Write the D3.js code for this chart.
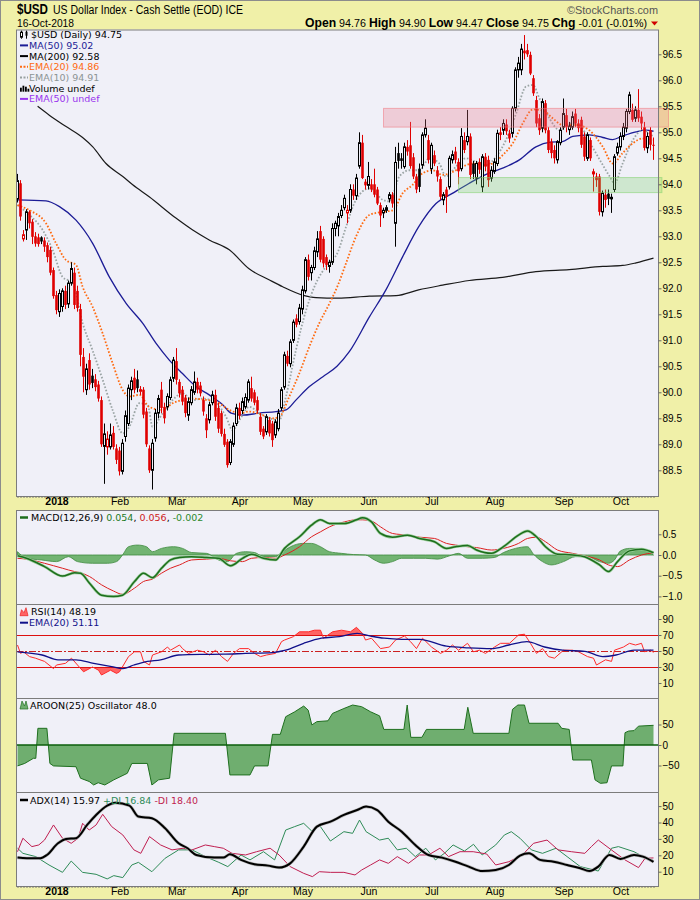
<!DOCTYPE html>
<html lang="en">
<head>
<meta charset="utf-8">
<title>$USD Daily</title>
<script src="https://cdn.jsdelivr.net/npm/d3@7/dist/d3.min.js"></script>
<style>
  body { margin: 0; background: #f0f0a8; }
  svg { display: block; }
</style>
</head>
<body>
<script>
// daily bars 12-Dec-2017 .. 16-Oct-2018 (bar index 0..212)
var opens = [93.72,94.02,92.95,93.12,93.47,93.28,93.00,92.98,92.98,92.92,
  92.83,92.74,92.35,91.87,91.55,91.65,91.95,91.70,92.10,92.30,
  91.95,91.60,90.68,90.05,90.62,90.32,90.25,90.15,89.85,88.96,
  88.95,88.95,89.22,88.92,88.88,88.48,89.15,89.40,90.05,90.28,
  90.25,90.02,90.05,89.63,88.92,88.50,89.12,89.60,90.05,89.72,
  89.72,89.90,90.27,90.60,90.20,90.05,89.90,89.56,89.80,90.00,
  90.20,90.13,89.85,89.50,89.47,89.80,89.95,89.70,89.60,89.20,
  89.05,88.65,89.00,89.40,89.70,89.65,89.72,89.85,90.08,90.00,
  89.85,89.53,89.30,89.24,89.47,89.40,89.18,89.30,89.70,90.10,
  90.70,90.55,91.00,91.42,91.36,91.60,91.95,92.55,92.30,92.40,
  92.70,93.10,92.95,92.60,92.42,92.50,93.15,93.20,93.40,93.55,
  93.45,93.50,93.90,93.78,94.35,94.80,94.05,93.98,94.00,94.00,
  93.90,93.60,93.45,93.50,93.72,93.80,93.25,94.60,94.50,94.34,
  94.72,94.75,94.52,94.15,94.30,94.37,94.95,94.85,94.30,94.56,
  94.27,94.10,93.70,93.90,93.95,94.47,94.63,94.43,94.30,94.85,
  94.82,94.92,94.40,94.12,94.43,93.95,94.53,94.47,94.12,94.25,
  94.40,95.00,95.04,95.15,94.98,94.98,95.46,96.20,96.20,96.57,
  96.58,96.49,96.04,95.62,95.27,95.08,95.56,95.04,94.82,94.66,
  94.47,94.80,95.10,95.33,95.05,95.10,95.36,95.17,95.24,94.92,
  94.50,94.85,94.20,94.15,94.15,93.47,93.80,93.82,93.72,93.90,
  94.60,94.72,94.92,95.08,95.40,95.43,95.27,95.43,95.30,95.10,
  94.70,95.04,94.76];
var highs = [94.20,94.08,93.12,93.52,93.50,93.33,93.08,93.05,93.00,92.98,
  92.88,92.80,92.40,91.95,91.98,92.00,92.05,92.15,92.50,92.40,
  92.05,91.70,90.85,90.55,90.75,90.45,90.35,90.22,89.92,89.40,
  89.25,89.40,89.35,89.00,88.95,89.10,89.65,90.15,90.30,90.45,
  90.42,90.12,90.10,89.70,88.98,89.10,89.68,89.95,90.20,89.80,
  89.98,90.30,90.68,90.85,90.25,90.12,89.95,89.90,90.12,90.40,
  90.28,90.20,89.92,89.58,89.82,90.03,90.05,89.80,89.65,89.30,
  89.10,89.10,89.42,89.78,89.80,89.90,89.98,90.25,90.30,90.05,
  89.92,89.60,89.35,89.58,89.52,89.45,89.48,89.68,90.10,90.78,
  90.80,91.02,91.40,91.50,91.70,92.05,92.60,92.65,92.45,92.80,
  93.10,93.20,93.00,92.65,92.55,93.25,93.30,93.45,93.60,93.80,
  93.60,94.00,94.00,94.20,95.00,94.95,94.10,94.43,94.10,94.30,
  93.95,93.65,93.55,93.60,93.85,93.85,94.72,94.80,94.60,94.80,
  94.85,95.20,94.60,94.20,94.40,95.00,95.25,94.95,94.80,94.65,
  94.35,94.15,93.85,93.95,94.55,94.65,94.72,94.50,95.08,95.00,
  95.43,94.98,94.45,94.45,94.50,94.58,94.60,94.55,94.35,94.50,
  95.05,95.10,95.25,95.25,95.05,95.50,96.25,96.45,96.70,96.87,
  96.70,96.55,96.10,95.70,95.35,95.65,95.62,95.10,94.88,94.75,
  94.85,95.10,95.65,95.45,95.20,95.40,95.45,95.25,95.30,95.00,
  95.00,94.90,94.30,94.22,94.20,93.88,93.90,93.90,93.82,94.58,
  94.80,95.00,95.18,95.45,95.78,95.55,95.50,95.83,95.40,95.20,
  95.00,95.10,94.90];
var lows = [93.65,93.30,92.90,92.93,93.15,92.85,92.80,92.80,92.85,92.70,
  92.50,92.25,91.80,91.50,91.45,91.55,91.60,91.62,92.05,91.60,
  91.55,90.50,90.00,89.95,90.05,90.08,90.02,89.82,88.95,88.24,
  88.80,88.90,88.90,88.62,88.40,88.42,89.05,89.35,89.85,89.98,
  90.00,89.95,89.50,88.95,88.45,88.13,89.05,89.50,89.60,89.40,
  89.65,89.85,90.20,90.15,89.90,89.75,89.52,89.45,89.75,89.95,
  89.98,89.92,89.55,89.12,89.40,89.75,89.45,89.22,89.15,88.95,
  88.55,88.60,88.95,89.35,89.48,89.58,89.68,89.80,89.82,89.75,
  89.60,89.18,89.10,89.18,89.15,88.95,89.12,89.25,89.65,90.05,
  90.50,90.48,90.95,91.25,91.30,91.50,91.90,92.15,92.15,92.35,
  92.60,92.50,92.40,92.35,92.30,92.45,93.00,93.00,93.35,93.50,
  93.25,93.45,93.70,93.70,94.30,94.10,93.90,93.90,93.85,93.75,
  93.60,93.18,93.35,93.45,93.65,93.55,92.80,94.30,94.30,94.30,
  94.55,94.30,94.10,93.83,93.85,94.30,94.90,94.40,94.20,94.35,
  94.05,93.70,93.60,93.45,93.90,94.40,94.40,94.00,94.25,94.60,
  94.75,94.10,94.10,94.00,94.20,93.85,94.25,93.95,94.05,94.20,
  94.35,94.85,94.95,94.95,94.80,94.90,95.40,96.05,96.10,96.40,
  96.45,96.10,95.70,95.10,94.95,95.00,94.98,94.60,94.50,94.40,
  94.40,94.75,95.05,95.00,94.95,95.05,95.10,95.00,94.70,94.45,
  94.45,94.45,93.86,93.95,93.40,93.38,93.55,93.60,93.45,93.85,
  94.55,94.65,94.85,95.00,95.35,95.20,95.20,95.20,95.05,94.65,
  94.60,94.65,94.47];
var closes = [94.07,93.38,93.03,93.47,93.25,92.99,92.86,92.85,92.90,92.80,
  92.60,92.30,91.85,91.58,91.90,91.95,91.68,92.10,92.38,91.68,
  91.62,90.72,90.30,90.45,90.15,90.18,90.10,89.88,89.00,89.20,
  89.10,89.18,88.95,88.70,88.48,89.02,89.55,90.08,90.22,90.05,
  90.08,90.05,89.57,89.00,88.50,89.02,89.60,89.88,89.70,89.50,
  89.92,90.24,90.62,90.24,89.98,89.82,89.60,89.82,90.05,90.20,
  90.05,89.98,89.63,89.27,89.76,89.95,89.53,89.30,89.20,88.99,
  88.60,89.05,89.35,89.70,89.55,89.82,89.90,90.20,89.88,89.80,
  89.65,89.24,89.15,89.53,89.21,89.08,89.43,89.60,90.05,90.72,
  90.55,90.97,91.35,91.30,91.62,91.97,92.55,92.22,92.40,92.72,
  92.95,92.55,92.48,92.45,92.50,93.15,93.25,93.38,93.50,93.73,
  93.50,93.90,93.78,94.12,94.80,94.12,93.98,94.15,93.90,93.80,
  93.63,93.40,93.50,93.55,93.80,93.63,94.42,94.45,94.45,94.72,
  94.63,94.35,94.15,93.90,93.95,94.95,95.08,94.47,94.75,94.40,
  94.15,93.76,93.80,93.76,94.50,94.57,94.47,94.25,94.92,94.66,
  94.92,94.18,94.20,94.40,94.28,94.53,94.34,94.08,94.27,94.43,
  94.98,94.95,95.17,95.02,94.88,95.46,96.20,96.33,96.60,96.52,
  96.50,96.13,95.75,95.17,95.04,95.59,95.04,94.66,94.60,94.50,
  94.82,95.04,95.36,95.10,95.12,95.30,95.17,95.08,94.76,94.53,
  94.95,94.50,94.24,94.08,93.47,93.83,93.70,93.72,93.75,94.53,
  94.72,94.92,95.10,95.40,95.72,95.24,95.43,95.27,95.17,94.70,
  94.92,94.76,94.75];

var monthIdx = [13, 34, 53, 74, 95, 117, 138, 159, 182, 201];
var monthLabels = ["2018", "Feb", "Mar", "Apr", "May", "Jun", "Jul", "Aug", "Sep", "Oct"];

// overlays (bar index, price)
var ma50Idx = [0,9.5,14,19.5,25,30.6,36.2,41.7,46.2,50.6,55,59.5,63.9,68.4,71.2,75,80.6,86.2,89.5,92.8,97.3,101.8,106.5,110.6,117.3,122.8,128.4,133.7,139.5,145.1,150.6,156.2,161.7,167.3,172.8,177.7,181.6,185.1,190.6,195.1,198.4,201.7,206.2,209.5,212];
var ma50Val = [93.7,93.68,93.57,93.31,92.87,92.22,91.71,91.33,90.94,90.62,90.36,90.11,89.95,89.76,89.6,89.56,89.6,89.63,89.66,89.85,90.11,90.3,90.5,90.78,91.45,91.97,92.61,93.18,93.63,93.83,94.02,94.19,94.31,94.47,94.72,94.81,94.82,94.92,94.95,94.9,94.86,94.93,95.01,95.04,95.02];
var ma200Idx = [6.7,10.6,16.2,21.7,25.1,29.5,35.1,38.4,43.9,52.8,58.4,63.9,70.6,77.3,84,88.4,95,99.5,106.8,117.3,126.2,133.7,141.7,150.6,161.7,172.8,183.9,195.1,201.7,206.2,212];
var ma200Val = [95.5,95.33,95.11,94.9,94.72,94.4,94.15,93.99,93.76,93.35,93.12,92.93,92.74,92.37,92.16,92.03,91.87,91.82,91.81,91.85,91.86,91.97,92.06,92.15,92.21,92.32,92.36,92.42,92.44,92.49,92.58];
var ema20Idx = [0,4,9.5,12.8,16.2,19.5,21.7,25,28.4,31.7,35.1,37.3,40.6,43.9,48.4,51.7,55,58.4,61.7,66.2,70.6,74,77.3,81.7,85.1,87.3,90.6,93.9,97.3,100.6,104,106.8,109.5,112.8,117.3,121.8,125.1,128.4,131.7,135,138.4,141.7,145.1,148.4,151.8,155.1,158.4,161.7,165.1,168.4,171.8,175.1,178.4,181.7,186.2,190.6,195.1,198.4,201.7,205.1,208.4,212];
var ema20Val = [93.6,93.5,93.25,92.87,92.54,92.45,92.03,91.65,91.13,90.56,90.04,89.92,89.95,89.72,89.66,89.79,89.85,89.88,89.86,89.82,89.66,89.6,89.63,89.56,89.5,89.53,89.92,90.36,90.88,91.33,91.71,92.06,92.48,92.99,93.41,93.47,93.5,93.83,93.99,94.21,94.27,94.18,94.24,94.34,94.4,94.37,94.4,94.56,94.79,95.17,95.44,95.42,95.27,95.14,95.14,95.04,94.72,94.4,94.6,94.79,94.88,94.86];
var ema10Idx = [0,4,8.4,11.7,15,18.4,21.7,25,28.4,31.7,35.1,37.3,40.6,43.4,45,48.4,51.7,55,58.4,61.7,66.2,69.5,71.7,74,77.3,80.6,84,87.3,89.5,92.8,96.2,99.5,102.8,106.8,109.5,112.8,117.3,121.8,124.1,127.3,130.7,134,137.3,140.6,142.8,146.2,149.5,152.8,156.2,159.5,162.8,166.2,169.5,171.8,174,177.3,180.7,184,187.3,190.6,194.1,197.4,199,201.7,205.1,208.4,212];
var ema10Val = [93.6,93.41,93.12,92.74,92.22,92.1,91.33,90.81,90.24,89.66,89.21,89.34,89.79,89.76,89.34,89.6,89.85,89.98,89.85,89.88,89.79,89.53,89.27,89.47,89.72,89.6,89.5,89.47,89.92,90.81,91.58,92.1,92.42,92.7,93.18,93.7,93.92,93.7,93.67,94.15,94.27,94.27,94.5,94.4,94.15,94.34,94.5,94.43,94.37,94.53,94.85,95.36,95.88,95.91,95.65,95.27,95.04,95.17,95.14,94.82,94.47,94.15,94.02,94.4,94.85,95.04,94.91];

// support / resistance zones
var zoneStart = [122, 147];
var zoneEnd = [217, 214.8];
var zoneLow = [95.10, 93.84];
var zoneHigh = [95.46, 94.13];

// MACD(12,26,9)
var macdIdx = [0,3,9,15,19,21,24,28,32,35,39,42,45,48,51,54,58,63,67,71,75,78,82,86,89,94,98,101,104,109,113,115,118,121,125,130,134,139,143,146,150,153,158,162,167,170,173,176,180,185,189,194,197,200,204,208,212];
var macdVal = [-0.02,-0.08,-0.28,-0.51,-0.43,-0.44,-0.68,-0.97,-1.0,-0.97,-0.64,-0.44,-0.55,-0.32,-0.12,-0.06,-0.04,-0.06,-0.08,-0.26,-0.08,0.02,-0.08,-0.12,0.16,0.44,0.72,0.85,0.76,0.76,0.85,0.9,0.8,0.52,0.43,0.48,0.4,0.32,0.16,0.2,0.23,0.12,0.04,0.2,0.48,0.58,0.44,0.2,0.02,0.0,-0.04,-0.24,-0.4,-0.16,0.1,0.14,0.054];
var signalVal = [-0.08,-0.1,-0.2,-0.32,-0.4,-0.43,-0.52,-0.72,-0.87,-0.95,-0.8,-0.64,-0.58,-0.44,-0.32,-0.24,-0.12,-0.1,-0.08,-0.14,-0.16,-0.08,-0.06,-0.08,0.0,0.2,0.44,0.56,0.68,0.8,0.85,0.85,0.82,0.68,0.52,0.48,0.43,0.4,0.28,0.24,0.2,0.18,0.12,0.16,0.28,0.4,0.43,0.32,0.12,0.04,-0.02,-0.12,-0.24,-0.28,-0.12,0.0,0.056];
var histIdx = [0,3,8,13,17,20,25,30,33,35,37,40,43,45,48,52,55,58,63,67,70,73,76,79,82,86,88,91,95,98,101,104,108,112,116,119,122,125,128,132,136,140,144,147,150,155,159,162,166,170,172,175,178,182,186,190,194,197,199,201,204,207,210,212];
var histVal = [0.08,-0.08,-0.12,-0.16,-0.04,-0.16,-0.2,-0.2,-0.16,0.0,0.2,0.24,0.2,0.08,0.16,0.2,0.16,0.06,0.04,-0.12,-0.16,0.04,0.08,0.06,-0.04,-0.04,0.06,0.2,0.28,0.28,0.2,0.08,0.04,0.01,0.0,-0.12,-0.2,-0.16,-0.08,-0.08,-0.08,-0.1,-0.02,0.04,-0.08,-0.08,-0.06,0.06,0.16,0.2,0.02,-0.16,-0.24,-0.16,-0.04,-0.04,-0.16,-0.2,-0.12,0.1,0.16,0.16,0.1,-0.002];

// RSI(14) and its EMA(20)
var rsiIdx = [0,1,2,4,6,9,12,13,16,18,20,22,25,27,28,31,33,34,37,39,41,42,44,45,48,50,51,54,55,57,60,62,64,66,68,70,72,74,77,79,81,83,86,88,89,92,94,97,99,101,102,105,108,111,113,115,116,118,121,124,126,129,131,133,135,138,141,143,145,147,150,152,154,156,159,161,164,167,169,171,173,175,177,179,182,185,187,190,192,193,196,198,199,202,204,206,208,209,211,212];
var rsiVal = [57.5,47,49,43,41,37,28,32.5,34.6,41,32.5,24,30,26,20,26,22,24,43,49,49,37,32.5,45,49,55,51,57.5,53,47,51,49,45,51,43,37,47,53,53,47,43,45,47,61.7,63.7,68,74,74,76,76,66,74,76,74,79.6,72,63.7,66,53,55,63.7,68.7,61.7,53,66,55,47,51,57.5,51,59.6,49,51,47,55,59.6,59.6,70,71,59.6,47,53,43,41,51,51,49,43,41,32.5,39,37,51,55,59.6,57.5,59.6,49,51,48.19];
var rsiEmaIdx = [0,8.2,13.5,19.5,25.4,31.4,35.1,38.8,43.3,47.7,53.7,61.1,68.6,76,84.9,89.4,95.4,101.3,107.3,113.2,117.7,122.2,128.1,134,143,150.4,157.9,163.8,169.8,175.7,181.7,189.1,195.1,199.5,205.5,212];
var rsiEmaVal = [49,45,39,39,34.6,30.4,28,32.5,37,39,45,45.8,46,47,48,51,59.6,66,68,72,68.7,66,64.6,64.6,56,54,53,57.5,61.7,55,51,49.6,43,45,51,51.11];

// AROON(25) oscillator
var aroonIdx = [0,2.4,5.3,6.1,6.8,9.8,10.8,12,19.5,21,23.9,25.4,26.9,29.1,32.1,36.6,38.1,43.3,44.8,47,50.7,52.2,69.3,70.8,77.5,79,83.5,85,87.6,89.4,92.4,95.4,96.9,98.1,99.8,103.5,105,108.8,111.7,114.7,117.7,120.7,122.1,128.8,129.9,131.1,134.8,136.3,148.9,150.1,151.9,163.8,165,166.8,169,170.5,180.2,181.4,183.9,185.1,191.3,192.5,194.3,196.5,198,201.8,202.5,203.7,205.5,207,212];
var aroonVal = [-51,-45,-32.5,-32.5,40.7,40.7,-45,-51,-53,-81,-89,-97.5,-92,-97.5,-85,-69,-45,-45,-97.5,-85,-81,28.5,28.5,-73,-73,-51,-51,26,26,69,81,95,85,49,57,59,77,89,97.5,93.5,81,71,38,38,97.5,18.7,18.7,38,38,92,28.5,28.5,87,97.5,97.5,53,53,40.7,38,-36.6,-36.6,-85,-93.5,-92,-51,-51,30,34,35,46,48];

// ADX(14), +DI, -DI
var adxIdx = [0,3.1,7.6,9.8,13.5,16.2,19.5,23.2,26.2,29.9,32.6,37.3,40.3,44.8,49.2,53.7,56.7,59.6,65.6,68.6,70.8,74.5,79,83.5,87.2,90.9,95.4,99.8,104.3,108.8,113.2,116.2,119.9,123.6,128.1,132.6,137,141.5,146,150.4,154.9,159.4,163.8,167.5,170.5,174.2,178.7,183.2,187.6,190.6,193.6,197.3,201,205.5,208.5,212];
var adxVal = [18.6,18.2,18.2,20.2,27.3,30,30.4,38.5,44.6,50.3,52,50.3,43.6,42.6,36.5,27.3,24.3,20.2,18.6,18.6,20.6,17.2,14.5,13.7,12.5,15.1,25.3,37.5,40.5,44.6,47.6,49.7,47.6,40.5,34.4,26.3,20.2,18.6,16.1,13.1,10.4,11,14.1,19.8,21.2,17.2,16.1,14.1,12.1,10.4,13.1,20.2,17.8,20.2,19.2,15.97];
var pdiIdx = [0,1.8,6.1,10.5,15,17.9,21.7,26.2,29.9,32.1,35.1,38.1,40.3,44.8,49.2,53.7,58.2,62.6,67.1,70.1,74.5,77.5,82,85.7,89.4,92.4,95.4,98.3,100.6,104.3,108.8,111.7,114,116.2,120.7,123.6,126.6,129.6,132.6,136.1,139.3,142.3,145.2,149,152,154.9,159.4,162.3,164.6,167.5,171.3,175,179.5,183.2,187.6,193.6,198,200.3,205.5,208.5,212];
var pdiVal = [24.3,21.2,19.2,14.1,9.6,16.5,9.6,8.4,5.6,7.6,6.4,14.1,15.7,10,18.2,23.3,23.3,19.2,15.7,13.1,20.2,17.2,22.2,17.2,35.4,37.5,39.5,34.4,38.5,28.7,34.4,33.4,41.5,34.4,29.3,30.4,23.3,24.3,19.2,24.3,17.2,21.2,26.3,22.6,26.7,20.2,26.3,32.4,34.4,30.4,23.3,21.2,24.3,19.2,13.1,10.4,24.3,25.3,22.2,19.2,16.84];
var mdiIdx = [0,1.8,4.8,7.1,9,12,15,17.9,20.2,21.7,23.9,26.2,28.4,31.4,35.1,38.8,41.1,44,47.7,51.5,55.2,58.2,62.6,65.6,68.6,71.5,76,79.7,84.2,87.2,90.9,95.4,98.3,100.6,104.3,108.8,112.5,114.7,117.7,120.7,123.6,126.6,130.3,134,137,140.8,143.7,147.5,151.9,156.4,159.4,163.8,168.3,172,176.5,180.2,184.6,189.1,191.3,193.6,196.5,199.5,202.5,207,209.2,212];
var mdiVal = [22.2,30.4,25.3,26.3,29.3,38.5,30.4,27.3,30.4,39.5,35.4,38.5,45,37.5,32.4,23.3,21.2,31.4,26.3,23.3,24.3,23.3,26.3,25.3,24.3,21.2,20.2,22.2,24.3,20.2,13.1,9,7,10,9.6,9.6,8,11,14.1,17.2,15.1,19.2,15.1,20.2,20.2,24.3,19.2,22.2,22.2,20.8,14.1,16.1,20.2,27.3,29.3,23.3,22.2,21.2,25.3,29.3,25.3,21.2,17.2,12.5,18.2,18.4];

var mainTicks = [88.5,89.0,89.5,90.0,90.5,91.0,91.5,92.0,92.5,93.0,93.5,94.0,94.5,95.0,95.5,96.0,96.5];
var macdTicks = [-1.0,-0.5,0.0,0.5];
var rsiTicks = [10,30,50,70,90];
var aroonTicks = [-50,0,50];
var adxTicks = [10,20,30,40,50];

// ---------------------------------------------------------------
var W = 700, H = 900, L = 16, R = 659;
var bg = "#f0f0a8", panelBg = "#f0f0f8", frame = "#7c7c7c";
var sans = "'Liberation Sans',Arial,sans-serif";
var legendFont = "'DejaVu Sans',Verdana,sans-serif";

var panels = [
  {id: "main", top: 29.5, bot: 496},
  {id: "macd", top: 510, bot: 604},
  {id: "rsi", top: 604, bot: 698},
  {id: "aroon", top: 698, bot: 792},
  {id: "adx", top: 792, bot: 886}
];

var x = d3.scaleLinear().domain([0, 212]).range([17.5, 653.5]);
var yP = d3.scaleLinear().domain([88.5, 96.5]).range([470.3, 54.3]);
var yM = d3.scaleLinear().domain([-1, 0.5]).range([596.4, 534.3]);
var yR = d3.scaleLinear().domain([10, 90]).range([683, 619]);
var yA = d3.scaleLinear().domain([-50, 50]).range([765.5, 724.5]);
var yD = d3.scaleLinear().domain([10, 50]).range([871.7, 806.1]);

function pts(idx, val) { return idx.map(function(d, k) { return [d, val[k]]; }); }

var svg = d3.select("body").append("svg").attr("width", W).attr("height", H);
var defs = svg.append("defs");

svg.append("rect").attr("x", 0.5).attr("y", 0.5).attr("width", W - 1).attr("height", H - 1)
  .attr("fill", bg).attr("stroke", "#8c8c8c");

panels.forEach(function(p) {
  defs.append("clipPath").attr("id", "clip-" + p.id).append("rect")
    .attr("x", L).attr("y", p.top).attr("width", R - L).attr("height", p.bot - p.top);
  svg.append("rect").attr("x", L).attr("y", p.top).attr("width", R - L).attr("height", p.bot - p.top)
    .attr("fill", panelBg);
});

// ---------------- main price panel
var gMain = svg.append("g").attr("clip-path", "url(#clip-main)");

var lineP = d3.line().x(function(d) { return x(d[0]); }).y(function(d) { return yP(d[1]); }).curve(d3.curveMonotoneX);

gMain.append("path").attr("d", lineP(pts(ma200Idx, ma200Val))).attr("fill", "none")
  .attr("stroke", "#1a1a1a").attr("stroke-width", 1.2);
gMain.append("path").attr("d", lineP(pts(ma50Idx, ma50Val))).attr("fill", "none")
  .attr("stroke", "#1c1c96").attr("stroke-width", 1.3);
gMain.append("path").attr("d", lineP(pts(ema10Idx, ema10Val))).attr("fill", "none")
  .attr("stroke", "#9aa4a4").attr("stroke-width", 1.8).attr("stroke-dasharray", "1.6,1.8");
gMain.append("path").attr("d", lineP(pts(ema20Idx, ema20Val))).attr("fill", "none")
  .attr("stroke", "#ff6a10").attr("stroke-width", 1.8).attr("stroke-dasharray", "1.6,1.8");

var bars = closes.map(function(c, i) {
  var prev = i > 0 ? closes[i - 1] : opens[i];
  return {i: i, o: opens[i], h: highs[i], l: lows[i], c: c,
    col: c < prev ? "#e00000" : "#000000", hollow: c > opens[i]};
});

gMain.selectAll("line.wick").data(bars).enter().append("line").attr("class", "wick")
  .attr("x1", function(d) { return x(d.i); }).attr("x2", function(d) { return x(d.i); })
  .attr("y1", function(d) { return yP(d.h); }).attr("y2", function(d) { return yP(d.l); })
  .attr("stroke", function(d) { return d.col; }).attr("stroke-width", 1);

gMain.selectAll("rect.body").data(bars).enter().append("rect").attr("class", "body")
  .attr("x", function(d) { return d.hollow ? x(d.i) - 1 : x(d.i) - 1.3; })
  .attr("width", function(d) { return d.hollow ? 2 : 2.6; })
  .attr("y", function(d) { return yP(Math.max(d.o, d.c)); })
  .attr("height", function(d) { return Math.max(1, yP(Math.min(d.o, d.c)) - yP(Math.max(d.o, d.c))); })
  .attr("fill", function(d) { return d.hollow ? panelBg : d.col; })
  .attr("stroke", function(d) { return d.hollow ? d.col : "none"; })
  .attr("stroke-width", 1);

// zones drawn over the candles, they run past the right frame
zoneStart.forEach(function(s, k) {
  svg.append("rect")
    .attr("x", x(s)).attr("width", x(zoneEnd[k]) - x(s))
    .attr("y", yP(zoneHigh[k])).attr("height", yP(zoneLow[k]) - yP(zoneHigh[k]))
    .attr("fill", k === 0 ? "rgba(232,110,130,0.28)" : "rgba(120,210,100,0.28)")
    .attr("stroke", k === 0 ? "rgba(240,120,130,0.55)" : "rgba(130,210,110,0.55)");
});

// ---------------- MACD
var gMacd = svg.append("g").attr("clip-path", "url(#clip-macd)");
var histArea = d3.area().x(function(d) { return x(d[0]); }).y0(yM(0)).y1(function(d) { return yM(d[1]); })
  .curve(d3.curveMonotoneX);
gMacd.append("path").attr("d", histArea(pts(histIdx, histVal)))
  .attr("fill", "#72b472").attr("stroke", "#3d8a3d").attr("stroke-width", 0.8);
var lineM = d3.line().x(function(d) { return x(d[0]); }).y(function(d) { return yM(d[1]); }).curve(d3.curveMonotoneX);
gMacd.append("path").attr("d", lineM(pts(macdIdx, signalVal))).attr("fill", "none")
  .attr("stroke", "#dd2020").attr("stroke-width", 1);
gMacd.append("path").attr("d", lineM(pts(macdIdx, macdVal))).attr("fill", "none")
  .attr("stroke", "#9ccf9c").attr("stroke-width", 2.8);
gMacd.append("path").attr("d", lineM(pts(macdIdx, macdVal))).attr("fill", "none")
  .attr("stroke", "#1d6e1d").attr("stroke-width", 1.5);

// ---------------- RSI
var gRsi = svg.append("g").attr("clip-path", "url(#clip-rsi)");
defs.append("clipPath").attr("id", "clip-rsi-hi").append("rect")
  .attr("x", L).attr("y", 604).attr("width", R - L).attr("height", yR(70) - 604);
defs.append("clipPath").attr("id", "clip-rsi-lo").append("rect")
  .attr("x", L).attr("y", yR(30)).attr("width", R - L).attr("height", 698 - yR(30));
var rsiPts = pts(rsiIdx, rsiVal);
var lineR = d3.line().x(function(d) { return x(d[0]); }).y(function(d) { return yR(d[1]); });
gRsi.append("path").attr("clip-path", "url(#clip-rsi-hi)")
  .attr("d", d3.area().x(function(d) { return x(d[0]); }).y0(yR(70)).y1(function(d) { return yR(d[1]); })(rsiPts))
  .attr("fill", "#ff6464");
gRsi.append("path").attr("clip-path", "url(#clip-rsi-lo)")
  .attr("d", d3.area().x(function(d) { return x(d[0]); }).y0(yR(30)).y1(function(d) { return yR(d[1]); })(rsiPts))
  .attr("fill", "#ff6464");
[70, 30].forEach(function(v) {
  gRsi.append("line").attr("x1", L).attr("x2", R).attr("y1", Math.round(yR(v)) + 0.5).attr("y2", Math.round(yR(v)) + 0.5)
    .attr("stroke", "#dd1010").attr("stroke-width", 1);
});
gRsi.append("line").attr("x1", L).attr("x2", R).attr("y1", Math.round(yR(50)) + 0.5).attr("y2", Math.round(yR(50)) + 0.5)
  .attr("stroke", "#cc2020").attr("stroke-width", 1).attr("stroke-dasharray", "7,2,2,2");
gRsi.append("path").attr("d", lineR(rsiPts)).attr("fill", "none").attr("stroke", "#ff2a2a").attr("stroke-width", 1);
gRsi.append("path").attr("d", lineR.curve(d3.curveMonotoneX)(pts(rsiEmaIdx, rsiEmaVal))).attr("fill", "none")
  .attr("stroke", "#10108a").attr("stroke-width", 1.3);

// ---------------- AROON
var gAr = svg.append("g").attr("clip-path", "url(#clip-aroon)");
var arPts = pts(aroonIdx, aroonVal);
gAr.append("path")
  .attr("d", d3.area().x(function(d) { return x(d[0]); }).y0(yA(0)).y1(function(d) { return yA(d[1]); })(arPts))
  .attr("fill", "#6fae6f");
gAr.append("path")
  .attr("d", d3.line().x(function(d) { return x(d[0]); }).y(function(d) { return yA(d[1]); })(arPts))
  .attr("fill", "none").attr("stroke", "#1f6f1f").attr("stroke-width", 1);
gAr.append("line").attr("x1", L).attr("x2", R).attr("y1", yA(0)).attr("y2", yA(0))
  .attr("stroke", "#0b5e0b").attr("stroke-width", 1.4);

// ---------------- ADX
var gAdx = svg.append("g").attr("clip-path", "url(#clip-adx)");
var lineD = d3.line().x(function(d) { return x(d[0]); }).y(function(d) { return yD(d[1]); });
gAdx.append("path").attr("d", lineD(pts(pdiIdx, pdiVal))).attr("fill", "none").attr("stroke", "#2e8b57").attr("stroke-width", 1);
gAdx.append("path").attr("d", lineD(pts(mdiIdx, mdiVal))).attr("fill", "none").attr("stroke", "#c01e50").attr("stroke-width", 1);
var lineDs = d3.line().x(function(d) { return x(d[0]); }).y(function(d) { return yD(d[1]); }).curve(d3.curveMonotoneX);
gAdx.append("path").attr("d", lineDs(pts(adxIdx, adxVal))).attr("fill", "none").attr("stroke", "#b8b8b8").attr("stroke-width", 3.2);
gAdx.append("path").attr("d", lineDs(pts(adxIdx, adxVal))).attr("fill", "none").attr("stroke", "#000").attr("stroke-width", 2);

// ---------------- frames and axes
panels.forEach(function(p) {
  svg.append("rect").attr("x", L + 0.5).attr("y", p.top + 0.5).attr("width", R - L - 1).attr("height", p.bot - p.top)
    .attr("fill", "none").attr("stroke", frame);
});

function rightAxis(scale, ticks, fmt, minorStep) {
  var r = scale.range();
  var lo = scale.invert(Math.max(r[0], r[1])), hi = scale.invert(Math.min(r[0], r[1]));
  var g = svg.append("g").attr("transform", "translate(" + (R - 0.5) + ",0)");
  var minor = d3.range(Math.ceil(lo / minorStep) * minorStep, hi, minorStep);
  g.call(d3.axisRight(scale).tickValues(minor).tickSize(2).tickFormat(""));
  g.call(d3.axisRight(scale).tickValues(ticks).tickSize(3).tickPadding(1).tickFormat(fmt));
  g.selectAll(".domain").remove();
  g.selectAll("line").attr("stroke", "#666");
  g.selectAll("text").attr("font-family", sans).attr("font-size", 10).attr("fill", "#000");
}
rightAxis(d3.scaleLinear().domain([yP.invert(496), yP.invert(29.5)]).range([496, 29.5]), mainTicks, d3.format(".1f"), 0.1);
rightAxis(d3.scaleLinear().domain([yM.invert(604), yM.invert(510)]).range([604, 510]), macdTicks, d3.format(".1f"), 0.1);
rightAxis(d3.scaleLinear().domain([yR.invert(698), yR.invert(604)]).range([698, 604]), rsiTicks, d3.format("d"), 5);
rightAxis(d3.scaleLinear().domain([yA.invert(792), yA.invert(698)]).range([792, 698]), aroonTicks, d3.format("d"), 10);
rightAxis(d3.scaleLinear().domain([yD.invert(886), yD.invert(792)]).range([886, 792]), adxTicks, d3.format("d"), 2.5);

function bottomAxis(yPos, labelY) {
  var g = svg.append("g").attr("transform", "translate(0," + yPos + ")");
  g.call(d3.axisBottom(x).tickValues(d3.range(closes.length)).tickSize(2).tickFormat(""));
  g.selectAll(".domain").remove();
  g.selectAll("line").attr("stroke", "#777");
  var t = svg.append("g").attr("transform", "translate(0," + labelY + ")");
  t.call(d3.axisBottom(x).tickValues(monthIdx).tickSize(0).tickPadding(0)
    .tickFormat(function(d, k) { return monthLabels[k]; }));
  t.selectAll(".domain").remove();
  t.selectAll("text").attr("font-family", sans).attr("font-size", 10.5).attr("fill", "#000")
    .attr("font-weight", function(d, k) { return k === 0 ? "bold" : "normal"; });
}
bottomAxis(496, 498);
bottomAxis(886, 888);

// ---------------- header (condensed to the reference widths)
var head = svg.append("g").attr("font-family", sans);
function headText(xp, yp, size, w, txt, opts) {
  var t = head.append("text").attr("x", xp).attr("y", yp).attr("font-size", size)
    .attr("textLength", w).attr("lengthAdjust", "spacingAndGlyphs").text(txt);
  if (opts && opts.bold) t.attr("font-weight", "bold");
  if (opts && opts.fill) t.attr("fill", opts.fill);
  return t;
}
headText(17, 13.5, 14, 31, "$USD", {bold: true});
headText(53, 13.5, 12, 190, "US Dollar Index - Cash Settle (EOD) ICE");
headText(567, 13.5, 11.5, 91, "\u00a9StockCharts.com", {fill: "#555"});
headText(17, 27, 11, 57, "16-Oct-2018");
var ohlc = head.append("text").attr("x", 305).attr("y", 27).attr("font-size", 11)
  .attr("textLength", 342).attr("lengthAdjust", "spacingAndGlyphs");
[["Open", " 94.76  "], ["High", " 94.90  "], ["Low", " 94.47  "], ["Close", " 94.75  "], ["Chg", " -0.01 (-0.01%)"]]
  .forEach(function(p) {
    ohlc.append("tspan").attr("font-weight", "bold").attr("font-size", 12.5).text(p[0]);
    ohlc.append("tspan").text(p[1]);
  });
head.append("path").attr("d", "M651,21.5 L658,21.5 L654.5,25.5 Z").attr("fill", "#d00000");

// ---------------- legends
function legendRow(g, y, icon, parts) {
  icon(g, y);
  var t = g.append("text").attr("x", parts.x).attr("y", y + 3.5).attr("font-family", legendFont).attr("font-size", 9.5);
  parts.items.forEach(function(it) { t.append("tspan").attr("fill", it[1]).text(it[0]); });
}
function dash(col, w, dotted) {
  return function(g, y) {
    g.append("line").attr("x1", 20).attr("x2", 28).attr("y1", y).attr("y2", y).attr("stroke", col)
      .attr("stroke-width", w).attr("stroke-dasharray", dotted ? "2,1.5" : null);
  };
}
var lg = svg.append("g");
var rowY = [34.7, 45.4, 56.1, 66.8, 77.5, 88.2, 98.9];
legendRow(lg, rowY[0], function(g, y) {
  g.append("line").attr("x1", 21.5).attr("x2", 21.5).attr("y1", y - 4).attr("y2", y + 4).attr("stroke", "#000");
  g.append("rect").attr("x", 20.5).attr("y", y - 2.5).attr("width", 2).attr("height", 5).attr("fill", "#fff").attr("stroke", "#000");
  g.append("line").attr("x1", 26.5).attr("x2", 26.5).attr("y1", y - 4).attr("y2", y + 4).attr("stroke", "#000");
  g.append("rect").attr("x", 25.5).attr("y", y - 3).attr("width", 2).attr("height", 4).attr("fill", "#000");
}, {x: 31, items: [["$USD (Daily) 94.75", "#000"]]});
legendRow(lg, rowY[1], dash("#1c1c96", 2), {x: 29, items: [["MA(50) 95.02", "#1c1c96"]]});
legendRow(lg, rowY[2], dash("#000", 2), {x: 29, items: [["MA(200) 92.58", "#000"]]});
legendRow(lg, rowY[3], dash("#ff6a10", 2, true), {x: 29, items: [["EMA(20) 94.86", "#ff6a10"]]});
legendRow(lg, rowY[4], dash("#98a0a0", 2, true), {x: 29, items: [["EMA(10) 94.91", "#8c9494"]]});
legendRow(lg, rowY[5], function(g, y) {
  [[20, 4], [22.5, 6], [25, 5], [27.5, 3]].forEach(function(b) {
    g.append("rect").attr("x", b[0]).attr("y", y + 3.5 - b[1]).attr("width", 1.8).attr("height", b[1]).attr("fill", "#000");
  });
}, {x: 29, items: [["Volume undef", "#000"]]});
legendRow(lg, rowY[6], dash("#9933ee", 2), {x: 29, items: [["EMA(50) undef", "#9933ee"]]});

legendRow(lg, 517.5, dash("#1d6e1d", 2.5), {x: 31, items: [["MACD(12,26,9) ", "#000"], ["0.054", "#1d7a1d"], [", ", "#000"], ["0.056", "#cc1a1a"], [", ", "#000"], ["-0.002", "#2c8a2c"]]});
legendRow(lg, 611.7, function(g, y) {
  g.append("path").attr("d", "M20," + (y + 4) + " L21.5," + (y - 2) + " L24," + (y + 1) + " L26," + (y - 4) + " L28," + (y + 4) + " Z")
    .attr("fill", "#ff6464").attr("stroke", "#ee2020").attr("stroke-width", 0.7);
}, {x: 31, items: [["RSI(14) 48.19", "#000"]]});
legendRow(lg, 622.7, dash("#10108a", 2), {x: 29, items: [["EMA(20) 51.11", "#10108a"]]});
legendRow(lg, 705, function(g, y) {
  g.append("path").attr("d", "M20," + (y + 4) + " L22," + (y - 4) + " L24.5," + (y + 1) + " L26," + (y - 4) + " L28," + (y + 4) + " Z")
    .attr("fill", "#6fae6f").attr("stroke", "#1f6f1f").attr("stroke-width", 0.7);
}, {x: 30, items: [["AROON(25) Oscillator 48.0", "#000"]]});
legendRow(lg, 800, dash("#000", 2.5), {x: 30, items: [["ADX(14) 15.97 ", "#000"], ["+DI 16.84 ", "#2e8b57"], ["-DI 18.40", "#c01e50"]]});
</script>
</body>
</html>
